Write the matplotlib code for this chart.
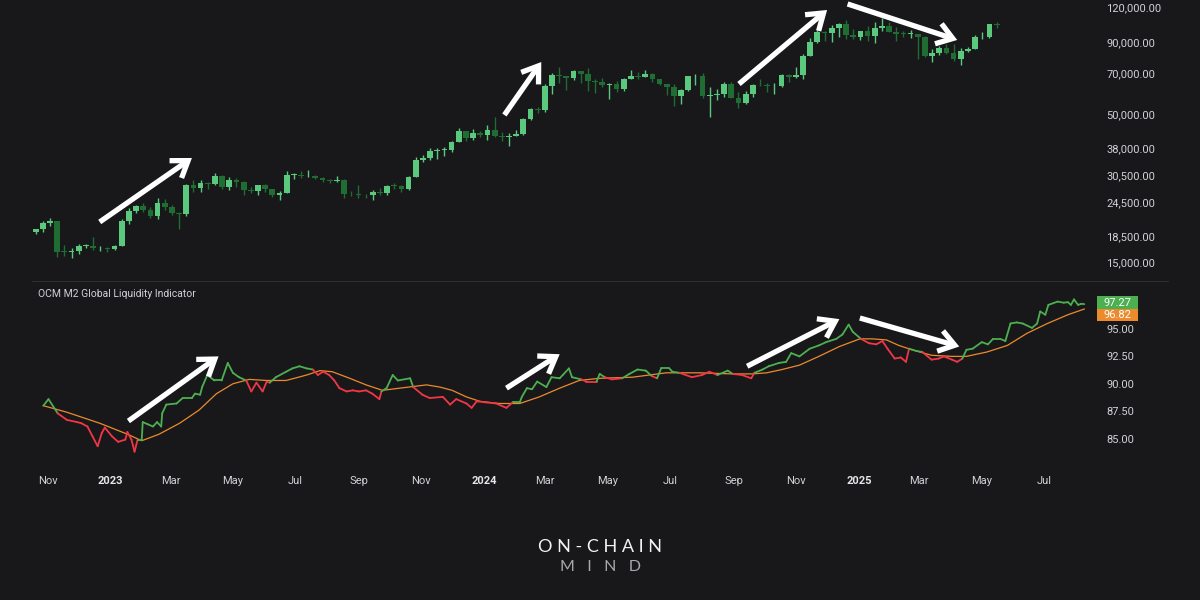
import matplotlib
matplotlib.use("Agg")
import matplotlib.pyplot as plt
import matplotlib.dates as mdates
from matplotlib.collections import LineCollection
from matplotlib.patches import Rectangle
from matplotlib.lines import Line2D
import numpy as np
import pandas as pd

# ---------------- data ----------------
btc_week_start = "2022-10-17"
btc_first_open = 19200
btc_closes = [19570, 20630, 20900, 16330, 16280, 16450, 17100, 17100, 16750, 16840, 16610,
              17130, 20880, 22710, 23740, 22940, 21780, 24280, 23500, 22430, 22130, 27990,
              27480, 28450, 28330, 30300, 27600, 29250, 28850, 26930, 26750, 28080, 27120,
              25840, 26340, 30530, 30590, 30170, 30250, 29790, 29280, 29060, 29280, 26090,
              26010, 25840, 25830, 26530, 26250, 27970, 27920, 27150, 29990, 34520, 35020,
              37070, 37360, 37460, 39970, 43800, 41390, 43000, 42270, 43930, 41750, 41580,
              42030, 42580, 48300, 52120, 51730, 63110, 68950, 68390, 67210, 71330, 69360,
              65700, 64940, 63430, 63890, 61350, 66920, 68520, 67760, 69650, 66650, 64260,
              62680, 57890, 60780, 68160, 68250, 58160, 58700, 58960, 64160, 57300, 54870,
              59130, 63580, 63330, 62820, 62870, 69000, 68020, 68780, 80470, 89850, 97700,
              97310, 101150, 104450, 95200, 93720, 98310, 94550, 101300, 102600, 97700, 96480,
              96130, 96300, 94270, 80700, 82580, 86080, 82340, 78200, 83700, 85200, 93700,
              94300, 104100, 103500]
btc_highs = [19700, 20990, 21450, 21000, 17190, 16800, 17400, 17420, 18390, 17060, 16960,
             17180, 21250, 23320, 23950, 24250, 23420, 25200, 25120, 23880, 22600, 28400,
             29200, 29160, 28800, 31000, 30500, 30000, 29850, 29100, 27650, 28140, 28440,
             27300, 26790, 31400, 31000, 31380, 31800, 30400, 29990, 29500, 30200, 29600,
             26800, 28150, 26100, 27000, 27450, 28000, 28600, 28000, 30350, 35200, 35950,
             37970, 38000, 38450, 40200, 44700, 43400, 44300, 43800, 45900, 48970, 43200,
             42800, 43850, 48550, 52800, 52950, 64000, 69900, 73800, 68200, 71750, 71300,
             72800, 66900, 67200, 64700, 65500, 67450, 71950, 70600, 71950, 70200, 66900,
             63400, 63800, 61400, 68400, 69500, 70000, 62700, 61700, 65000, 64950, 59800,
             60600, 64100, 66500, 64500, 64400, 69400, 69500, 73600, 81500, 93500, 99600,
             98900, 104000, 105200, 108300, 99900, 99000, 102700, 106400, 109600, 106400, 102300,
             98800, 99500, 95000, 95000, 85300, 87500, 88800, 88500, 86100, 86500, 95700,
             97900, 104400, 105800]
btc_lows = [18900, 19200, 20050, 15600, 15800, 15480, 16000, 16870, 16520, 16350, 16330,
            16540, 17110, 20400, 22300, 22550, 21460, 21370, 22880, 21970, 19570, 21900,
            26600, 26500, 27220, 28170, 27130, 26950, 27680, 25800, 26300, 25870, 26600,
            25400, 24800, 26250, 29550, 29750, 29960, 29600, 28850, 28600, 28750, 25170,
            25780, 25370, 25350, 24900, 26000, 26000, 27200, 26550, 26950, 29900, 33900,
            34500, 34800, 35700, 36700, 39900, 40200, 40600, 41500, 40700, 41500, 40300,
            38550, 41850, 42300, 47600, 50600, 50900, 59000, 64600, 60800, 66400, 64500,
            60700, 59600, 62500, 56500, 60200, 60700, 66600, 66700, 67550, 65100, 63400,
            58500, 53500, 54300, 60700, 63500, 57200, 49100, 56100, 57800, 57200, 52600,
            54600, 57500, 62800, 59850, 58900, 62400, 65100, 67500, 66800, 80200, 89400,
            90800, 90500, 94300, 92200, 92500, 91500, 91200, 89300, 98600, 97800, 91200,
            94100, 93400, 78200, 80000, 76600, 81200, 81600, 77150, 74500, 83100, 85000,
            92800, 93400, 100800]

m2_dates = ["2022-10-28", "2022-11-02", "2022-11-11", "2022-11-20", "2022-11-30", "2022-12-04",
            "2022-12-10", "2022-12-15", "2022-12-20", "2022-12-24", "2022-12-27",
            "2023-01-03", "2023-01-09", "2023-01-16", "2023-01-18", "2023-01-22", "2023-01-25", "2023-01-28",
            "2023-02-01", "2023-02-02", "2023-02-07", "2023-02-12", "2023-02-16", "2023-02-20", "2023-02-21", "2023-02-25",
            "2023-03-07", "2023-03-13", "2023-03-22", "2023-03-25", "2023-03-30",
            "2023-04-01", "2023-04-06", "2023-04-13", "2023-04-20", "2023-04-26",
            "2023-05-01", "2023-05-07", "2023-05-14", "2023-05-19", "2023-05-24", "2023-05-30",
            "2023-06-03", "2023-06-06", "2023-06-12", "2023-06-22", "2023-06-28",
            "2023-07-05", "2023-07-12", "2023-07-18", "2023-07-23", "2023-07-28",
            "2023-08-03", "2023-08-08", "2023-08-13", "2023-08-20", "2023-08-26",
            "2023-09-01", "2023-09-08", "2023-09-14", "2023-09-21", "2023-09-23", "2023-09-28",
            "2023-10-04", "2023-10-09", "2023-10-21", "2023-10-24",
            "2023-11-02", "2023-11-09", "2023-11-22", "2023-11-29",
            "2023-12-05", "2023-12-15", "2023-12-20", "2023-12-25",
            "2024-01-03", "2024-01-13", "2024-01-23", "2024-01-29",
            "2024-02-05", "2024-02-07", "2024-02-12", "2024-02-17", "2024-02-22",
            "2024-03-02", "2024-03-07", "2024-03-15", "2024-03-18", "2024-03-24", "2024-03-27",
            "2024-04-05", "2024-04-10", "2024-04-20", "2024-04-23", "2024-04-28",
            "2024-05-05", "2024-05-15", "2024-05-22", "2024-05-30",
            "2024-06-07", "2024-06-13", "2024-06-18", "2024-06-22", "2024-06-30",
            "2024-07-03", "2024-07-10", "2024-07-22",
            "2024-08-01", "2024-08-08", "2024-08-16", "2024-08-26", "2024-08-31",
            "2024-09-09", "2024-09-18", "2024-09-21", "2024-09-29",
            "2024-10-05", "2024-10-15", "2024-10-22", "2024-10-27",
            "2024-11-04", "2024-11-14", "2024-11-23", "2024-11-30",
            "2024-12-10", "2024-12-16", "2024-12-22", "2024-12-26",
            "2025-01-03", "2025-01-11", "2025-01-18", "2025-01-24", "2025-01-29",
            "2025-02-05", "2025-02-11", "2025-02-16", "2025-02-19", "2025-02-26",
            "2025-03-04", "2025-03-13", "2025-03-20", "2025-03-25",
            "2025-04-02", "2025-04-07", "2025-04-12", "2025-04-16", "2025-04-22",
            "2025-05-01", "2025-05-07", "2025-05-12", "2025-05-19", "2025-05-24", "2025-05-29",
            "2025-06-04", "2025-06-10", "2025-06-19", "2025-06-24", "2025-06-27",
            "2025-07-02", "2025-07-05", "2025-07-14", "2025-07-20", "2025-07-24", "2025-07-27", "2025-07-30",
            "2025-08-03", "2025-08-06", "2025-08-09"]
m2_values = [88.0, 88.6, 87.3, 86.7, 86.5, 86.4, 86.1, 85.2, 84.3, 85.5, 86.0,
             85.2, 84.7, 84.9, 85.6, 84.9, 83.8, 84.9,
             84.9, 86.5, 86.3, 86.1, 86.5, 86.1, 87.3, 88.1,
             88.2, 88.7, 88.7, 89.1, 89.0,
             89.7, 90.8, 90.3, 90.3, 91.9,
             91.0, 90.6, 90.3, 89.3, 90.1, 89.3,
             90.2, 90.1, 90.6, 91.1, 91.4,
             91.6, 91.4, 91.3, 90.8, 91.1,
             90.8, 90.3, 89.6, 89.3, 89.4,
             89.3, 89.4, 89.1, 88.6, 89.3, 89.6,
             90.8, 90.3, 90.5, 89.7,
             89.0, 88.7, 88.8, 88.1,
             88.6, 88.2, 87.8, 88.4,
             88.3, 88.2, 87.8, 88.3,
             88.3, 88.8, 89.6, 89.5, 90.2,
             89.7, 90.6, 90.5, 90.8, 91.4, 90.6,
             90.4, 90.2, 90.2, 90.9, 90.6,
             90.4, 90.5, 90.9, 91.3,
             91.2, 90.7, 90.5, 91.4, 91.4,
             91.1, 91.0, 90.6,
             90.8, 91.1, 90.8, 91.2, 90.9,
             90.8, 90.5, 91.0, 91.3,
             91.6, 91.9, 92.0, 92.8,
             92.5, 93.2, 93.5, 93.8,
             94.1, 94.5, 95.4, 94.75,
             94.1, 93.7, 93.6, 93.9, 93.2,
             92.3, 92.4, 92.0, 93.2, 93.0,
             92.9, 92.2, 92.3, 92.5,
             92.2, 92.0, 92.3, 93.1, 93.2,
             93.8, 93.6, 94.1, 94.1, 93.9, 95.5,
             95.6, 95.5, 95.1, 95.5, 96.6,
             96.3, 97.2, 97.5, 97.4, 97.45, 97.2, 97.7,
             97.2, 97.3, 97.27]

ma_dates = ["2022-10-28", "2022-11-20", "2022-12-22",
            "2023-01-18", "2023-02-01", "2023-02-18", "2023-03-10", "2023-03-29", "2023-04-15",
            "2023-05-01", "2023-05-17", "2023-06-03", "2023-06-22", "2023-07-12", "2023-07-25",
            "2023-08-06", "2023-08-23", "2023-09-08", "2023-09-24", "2023-10-11", "2023-11-06",
            "2023-11-19", "2023-12-01", "2023-12-15", "2023-12-28",
            "2024-01-16", "2024-02-05", "2024-02-24", "2024-03-15", "2024-04-03", "2024-04-23",
            "2024-05-25", "2024-06-27", "2024-07-29", "2024-08-31", "2024-09-19", "2024-10-03",
            "2024-10-18", "2024-11-04", "2024-11-23", "2024-12-13",
            "2025-01-02", "2025-01-14", "2025-01-28", "2025-02-09", "2025-02-22", "2025-03-13",
            "2025-04-02", "2025-04-16", "2025-05-06", "2025-05-26", "2025-06-14", "2025-07-04",
            "2025-07-24", "2025-08-09"]
ma_values = [88.0, 87.4, 86.4,
             85.4, 84.8, 85.4, 86.4, 87.6, 89.1, 90.0, 90.4, 90.3, 90.3, 90.8, 91.2, 91.1, 90.5,
             89.9, 89.4, 89.6, 89.9, 89.7, 89.4, 88.8, 88.4,
             88.2, 88.2, 88.8, 89.6, 90.3, 90.5, 90.6, 91.0, 91.0, 90.9, 90.9, 91.0, 91.3, 91.7,
             92.5, 93.4,
             94.1, 94.1, 94.0, 93.5, 93.1, 92.6, 92.5, 92.5, 92.9, 93.5, 94.6, 95.5, 96.3, 96.82]

price_ticks = [15000, 18500, 24500, 30500, 38000, 50000, 70000, 90000, 120000]
m2_ticks = [85.0, 87.5, 90.0, 92.5, 95.0]
last_value_label = "97.27"
last_ma_label = "96.82"
indicator_title = "OCM M2 Global Liquidity Indicator"

# arrows: (tail date, tail value, head date, head value)
top_arrows = [("2022-12-22", 20780, "2023-03-22", 35020),
              ("2024-01-21", 49740, "2024-02-26", 76600),
              ("2024-09-06", 64040, "2024-12-01", 117100),
              ("2024-12-21", 123000, "2025-04-07", 91700)]
bottom_arrows = [("2023-01-19", 86.6, "2023-04-17", 92.5),
                 ("2024-01-23", 89.6, "2024-03-15", 92.7),
                 ("2024-09-14", 91.6, "2024-12-13", 95.9),
                 ("2025-01-02", 96.0, "2025-04-09", 93.4)]

# ---------------- style ----------------
BG = "#18181b"
TXT = "#d1d1d6"
UP = "#5ac87d"
DOWN = "#1f6d33"
GREEN = "#4caf50"
RED = "#f23645"
ORANGE = "#ec8a2c"
plt.rcParams["font.family"] = ["Roboto", "DejaVu Sans"]

W, H = 1200, 600
fig = plt.figure(figsize=(12, 6), dpi=100, facecolor=BG)
L, R = 30, 1095
ax1 = fig.add_axes([L / W, 1 - 278 / H, (R - L) / W, 278 / H])
ax2 = fig.add_axes([L / W, 1 - 462 / H, (R - L) / W, (462 - 281) / H])
for ax in (ax1, ax2):
    ax.set_facecolor(BG)
    for s in ax.spines.values():
        s.set_visible(False)

x0 = pd.Timestamp("2022-10-14 23:00")
x1 = pd.Timestamp("2025-08-19 12:00")

# ---------- top: BTC candles ----------
wk = mdates.date2num(pd.date_range(btc_week_start, periods=len(btc_closes), freq="7D")
                     + pd.Timedelta(days=3.5))
closes = np.array(btc_closes, dtype=float)
opens = np.concatenate([[btc_first_open], closes[:-1]])
highs = np.array(btc_highs, dtype=float)
lows = np.array(btc_lows, dtype=float)
lo = np.minimum(opens, closes)
hi = np.maximum(opens, closes)
hi = np.maximum(hi, lo * 1.006)
cols = [UP if c >= o else DOWN for o, c in zip(opens, closes)]
ax1.vlines(wk, np.minimum(lows, lo), np.maximum(highs, hi), colors=cols, linewidth=1.0, zorder=2)
ax1.bar(wk, hi - lo, bottom=lo, width=5.6, color=cols, linewidth=0, zorder=3)
ax1.set_yscale("log")
ax1.set_ylim(13158, 127050)
ax1.set_xlim(x0, x1)
ax1.yaxis.tick_right()
ax1.set_yticks(price_ticks)
ax1.set_yticklabels([f"{t:,.2f}" for t in price_ticks])
ax1.yaxis.set_minor_locator(matplotlib.ticker.NullLocator())
ax1.tick_params(axis="y", length=0, pad=8, labelsize=8, labelcolor=TXT)
ax1.set_xticks([])

# ---------- bottom: M2 indicator ----------
md = mdates.date2num(pd.to_datetime(m2_dates))
mv = np.array(m2_values)
ad = mdates.date2num(pd.to_datetime(ma_dates))
av = np.array(ma_values)
ma_at = np.interp(md, ad, av)
segs = [[(md[i], mv[i]), (md[i + 1], mv[i + 1])] for i in range(len(md) - 1)]
scol = [GREEN if (mv[i + 1] + mv[i]) / 2 >= (ma_at[i + 1] + ma_at[i]) / 2 else RED
        for i in range(len(md) - 1)]
ax2.plot(ad, av, color=ORANGE, lw=0.9, zorder=2)
ax2.add_collection(LineCollection(segs, colors=scol, linewidths=1.3, zorder=3,
                                  capstyle="round", joinstyle="round"))
ax2.set_xlim(x0, x1)
ax2.set_ylim(82.86, 99.38)
ax2.yaxis.tick_right()
ax2.set_yticks(m2_ticks)
ax2.set_yticklabels([f"{t:.2f}" for t in m2_ticks])
ax2.tick_params(axis="y", length=0, pad=8, labelsize=8, labelcolor=TXT)

xt = pd.to_datetime(["2022-11-01", "2023-01-01", "2023-03-01", "2023-05-01", "2023-07-01",
                     "2023-09-01", "2023-11-01", "2024-01-01", "2024-03-01", "2024-05-01",
                     "2024-07-01", "2024-09-01", "2024-11-01", "2025-01-01", "2025-03-01",
                     "2025-05-01", "2025-07-01"])
ax2.set_xticks(mdates.date2num(xt))
ax2.set_xticklabels([str(d.year) if d.month == 1 else d.strftime("%b") for d in xt])
ax2.tick_params(axis="x", length=0, pad=10, labelsize=8, labelcolor=TXT)
for lab, d in zip(ax2.get_xticklabels(), xt):
    if d.month == 1:
        lab.set_fontweight("bold")
        lab.set_color("#e6e6ea")

# last value labels
for lab, col, ytop in [(last_value_label, GREEN, 296), (last_ma_label, ORANGE, 308.5)]:
    fig.add_artist(Rectangle((1097 / W, 1 - (ytop + 12.5) / H), 41 / W, 12.5 / H,
                             transform=fig.transFigure, facecolor=col, edgecolor="none"))
    fig.text(1117.5 / W, 1 - (ytop + 6.5) / H, lab, ha="center", va="center",
             color="white", fontsize=8)

# arrows
def draw_arrow(ax, a):
    t = (mdates.date2num(pd.Timestamp(a[0])), a[1])
    h = (mdates.date2num(pd.Timestamp(a[2])), a[3])
    ax.annotate("", xy=h, xytext=t, annotation_clip=False,
                arrowprops=dict(arrowstyle="->,head_length=0.55,head_width=0.38",
                                mutation_scale=20, lw=3.8, color="white",
                                shrinkA=0, shrinkB=0, joinstyle="miter", capstyle="butt"),
                zorder=5)

for a in top_arrows:
    draw_arrow(ax1, a)
for a in bottom_arrows:
    draw_arrow(ax2, a)

# separator + title
fig.add_artist(Line2D([32 / W, 1168 / W], [1 - 280.5 / H] * 2, color="#2c2c31", lw=0.8,
                      transform=fig.transFigure))
fig.text(38 / W, 1 - 294 / H, indicator_title, ha="left", va="center", color=TXT, fontsize=7.5)

# logo
fig.text(600 / W, 1 - 547 / H, "O N - C H A I N", ha="center", va="center",
         color="#f2f2f2", fontsize=13, family=["Lato", "DejaVu Sans"])
fig.text(600 / W, 1 - 567 / H, "M   I   N   D", ha="center", va="center",
         color="#a8a8ac", fontsize=11.5, family=["Lato", "DejaVu Sans"])

fig.savefig("out.png", dpi=100, facecolor=BG)
